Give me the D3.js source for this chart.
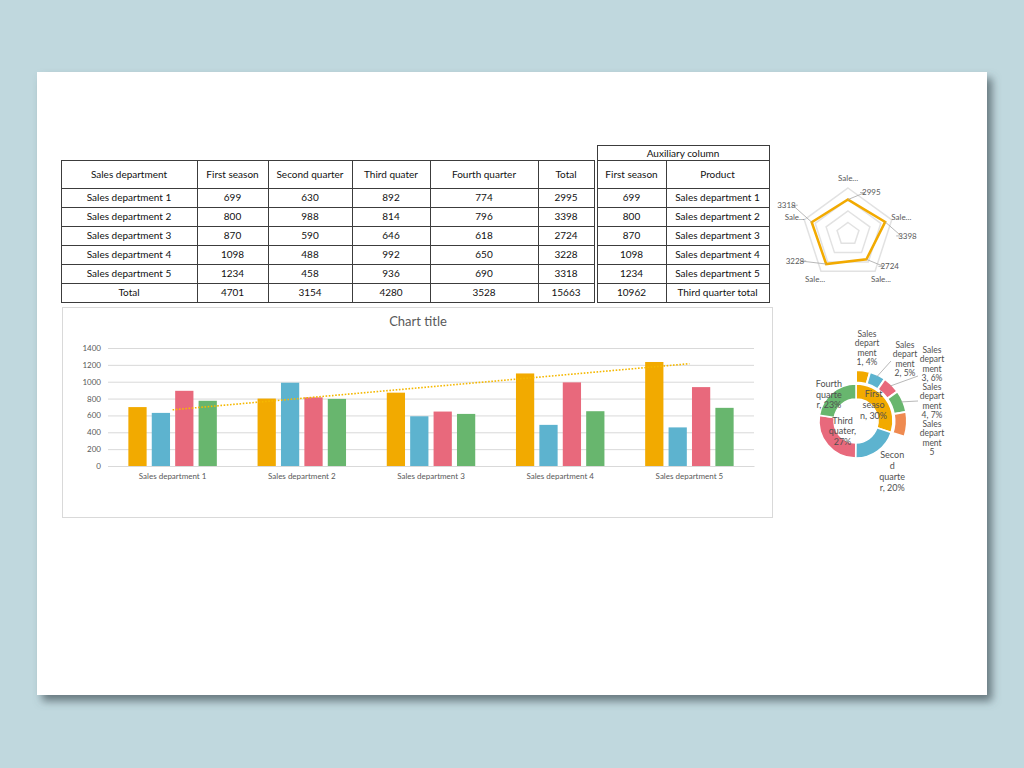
<!DOCTYPE html>
<html>
<head>
<meta charset="utf-8">
<script src="https://cdn.jsdelivr.net/npm/d3@7/dist/d3.min.js"></script>
<style>
  body { margin: 0; background: #c0d8de; }
  svg { display: block; font-family: Lato, "Open Sans", sans-serif; }
</style>
</head>
<body>
<div id="chart"></div>
<script>
// data
var departments = ["Sales department 1", "Sales department 2", "Sales department 3", "Sales department 4", "Sales department 5"];
var quarters = ["First season", "Second quarter", "Third quater", "Fourth quarter"];
var firstSeason = [699, 800, 870, 1098, 1234];
var secondQuarter = [630, 988, 590, 488, 458];
var thirdQuarter = [892, 814, 646, 992, 936];
var fourthQuarter = [774, 796, 618, 650, 690];
var auxTotal = 10962;
var auxTotalLabel = "Third quarter total";
var yTicks = [0, 200, 400, 600, 800, 1000, 1200, 1400];
var radarTicks = [1000, 2000, 3000, 4000];
var quarterLabelLines = [["First", "seaso", "n, 30%"], ["Secon", "d", "quarte", "r, 20%"], ["Third", "quater,", "27%"], ["Fourth", "quarte", "r, 23%"]];
var deptLabelLines = [["Sales", "depart", "ment", "1, 4%"], ["Sales", "depart", "ment", "2, 5%"], ["Sales", "depart", "ment", "3, 6%"], ["Sales", "depart", "ment", "4, 7%"], ["Sales", "depart", "ment", "5"]];

var series = [firstSeason, secondQuarter, thirdQuarter, fourthQuarter];
var colors = ["#f2aa00", "#5db3cf", "#e8697c", "#68b66e"];
var deptColors = ["#f2aa00", "#5db3cf", "#e8697c", "#68b66e", "#ef8a50"];
var txt = "#111", grey = "#595959", gridCol = "#d9d9d9";

var deptTotals = departments.map((d, i) => d3.sum(series, s => s[i]));
var quarterTotals = series.map(s => d3.sum(s));
var grandTotal = d3.sum(quarterTotals);

var svg = d3.select("#chart").append("svg")
    .attr("width", 1024)
    .attr("height", 768);

// page + shadow
var defs = svg.append("defs");
defs.append("filter").attr("id", "shadow")
    .attr("x", "-5%").attr("y", "-5%").attr("width", "115%").attr("height", "115%")
  .append("feDropShadow")
    .attr("dx", 5).attr("dy", 6).attr("stdDeviation", 4)
    .attr("flood-color", "#4a5a5e").attr("flood-opacity", 0.75);

svg.append("rect")
    .attr("x", 37).attr("y", 72).attr("width", 950).attr("height", 623)
    .attr("fill", "white")
    .attr("filter", "url(#shadow)");

// ---------- main table ----------
var mainCols = [61, 197, 268, 352, 430, 538, 594];
var tableTop = 160, headH = 28, rowH = 19;
var rowY = i => tableTop + headH + i * rowH;

var mainRows = departments.map((d, i) => [d].concat(series.map(s => s[i]), [deptTotals[i]]));
mainRows.push(["Total"].concat(quarterTotals, [grandTotal]));
var mainHeader = ["Sales department"].concat(quarters, ["Total"]);

function drawTable(g, cols, header, rows, topY) {
  var bottom = rowY(rows.length);
  var ys = [topY, topY + headH].concat(d3.range(1, rows.length + 1).map(rowY));
  g.selectAll("line.h").data(ys).enter().append("line")
      .attr("x1", cols[0]).attr("x2", cols[cols.length - 1])
      .attr("y1", d => d + 0.5).attr("y2", d => d + 0.5)
      .attr("stroke", "#3c3c3c").attr("stroke-width", 1);
  g.selectAll("line.v").data(cols).enter().append("line")
      .attr("x1", d => d + 0.5).attr("x2", d => d + 0.5)
      .attr("y1", topY).attr("y2", bottom + 1)
      .attr("stroke", "#3c3c3c").attr("stroke-width", 1);

  g.selectAll("text.head").data(header).enter().append("text")
      .attr("x", (d, i) => (cols[i] + cols[i + 1]) / 2)
      .attr("y", topY + headH / 2)
      .attr("dy", "0.35em")
      .attr("text-anchor", "middle")
      .attr("font-size", 10)
      .attr("fill", txt)
      .text(d => d);

  rows.forEach(function(r, ri) {
    g.selectAll(null).data(r).enter().append("text")
        .attr("x", (d, i) => (cols[i] + cols[i + 1]) / 2)
        .attr("y", rowY(ri) + rowH / 2)
        .attr("dy", "0.35em")
        .attr("text-anchor", "middle")
        .attr("font-size", 10)
        .attr("fill", txt)
        .text(d => d);
  });
}

drawTable(svg.append("g"), mainCols, mainHeader, mainRows, tableTop);

// ---------- auxiliary table ----------
var auxCols = [597, 666, 769];
var auxRows = departments.map((d, i) => [firstSeason[i], d]);
auxRows.push([auxTotal, auxTotalLabel]);
var aux = svg.append("g");
aux.append("line").attr("x1", auxCols[0]).attr("x2", auxCols[2])
    .attr("y1", 145.5).attr("y2", 145.5).attr("stroke", "#3c3c3c");
aux.selectAll("line.sv").data([auxCols[0], auxCols[2]]).enter().append("line")
    .attr("x1", d => d + 0.5).attr("x2", d => d + 0.5)
    .attr("y1", 145).attr("y2", tableTop).attr("stroke", "#3c3c3c");
aux.append("text")
    .attr("x", (auxCols[0] + auxCols[2]) / 2).attr("y", 153).attr("dy", "0.35em")
    .attr("text-anchor", "middle").attr("font-size", 10).attr("fill", txt)
    .text("Auxiliary column");
drawTable(aux, auxCols, ["First season", "Product"], auxRows, tableTop);

// ---------- radar ----------
var rc = [848, 234];
var rScale = d3.scaleLinear().domain([0, 4000]).range([0, 46]);
var angle = d3.scaleLinear().domain([0, departments.length]).range([0, 2 * Math.PI]);
var radar = svg.append("g").attr("transform", "translate(" + rc + ")");

var ringLine = d3.lineRadial().angle((d, i) => angle(i)).curve(d3.curveLinearClosed);
radar.selectAll("path.ring").data(radarTicks).enter().append("path")
    .attr("d", t => ringLine.radius(rScale(t))(departments))
    .attr("fill", "none").attr("stroke", "#e2e2e2").attr("stroke-width", 1.5);

radar.append("path")
    .datum(deptTotals)
    .attr("d", d3.lineRadial().angle((d, i) => angle(i)).radius(d => rScale(d)).curve(d3.curveLinearClosed))
    .attr("fill", "none").attr("stroke", "#f2aa00").attr("stroke-width", 2.5);

radar.selectAll("text.cat").data(departments).enter().append("text")
    .attr("x", (d, i) => d3.pointRadial(angle(i), 56)[0])
    .attr("y", (d, i) => d3.pointRadial(angle(i), 56)[1])
    .attr("dy", "0.35em")
    .attr("text-anchor", "middle")
    .attr("font-size", 8).attr("fill", grey)
    .text(d => d.slice(0, 4) + "...");

// value labels offset from their vertices
var radarLabelOff = [[19, -7], [18, 14], [19, 7], [-27, -3], [-21, -17]];
var radarLabels = radar.selectAll("g.val").data(deptTotals).enter().append("g");
radarLabels.append("polyline")
    .attr("points", function(d, i) {
      var p = d3.pointRadial(angle(i), rScale(d)), o = radarLabelOff[i];
      var side = o[0] > 0 ? -10 : 10;
      return [p, [p[0] + o[0] + side * 0.2, p[1] + o[1]], [p[0] + o[0] + side * 0.7, p[1] + o[1]]].join(" ");
    })
    .attr("fill", "none").attr("stroke", "#a6a6a6").attr("stroke-width", 0.8);
radarLabels.append("text")
    .attr("x", (d, i) => d3.pointRadial(angle(i), rScale(d))[0] + radarLabelOff[i][0] + (radarLabelOff[i][0] > 0 ? -5 : 5))
    .attr("y", (d, i) => d3.pointRadial(angle(i), rScale(d))[1] + radarLabelOff[i][1])
    .attr("dy", "0.35em")
    .attr("text-anchor", (d, i) => radarLabelOff[i][0] > 0 ? "start" : "end")
    .attr("font-size", 8).attr("fill", grey)
    .text(d => d);

// ---------- bar chart ----------
var box = svg.append("g");
box.append("rect")
    .attr("x", 62.5).attr("y", 307.5).attr("width", 710).attr("height", 210)
    .attr("fill", "white").attr("stroke", gridCol);
box.append("text")
    .attr("x", 418).attr("y", 326)
    .attr("text-anchor", "middle").attr("font-size", 13).attr("fill", grey)
    .text("Chart title");

var x0 = d3.scaleBand().domain(departments).range([108, 754]);
var x1 = d3.scaleBand().domain(quarters).range([0, x0.bandwidth()]).paddingInner(0.22).paddingOuter(0.87);
var y = d3.scaleLinear().domain([0, 1400]).range([466, 348]);

var yAxis = box.append("g").attr("transform", "translate(108,0)")
    .call(d3.axisLeft(y).tickValues(yTicks).tickFormat(d3.format("d")).tickSize(-646).tickPadding(7));
yAxis.select(".domain").remove();
yAxis.selectAll(".tick line").attr("stroke", gridCol);
yAxis.selectAll(".tick text").attr("fill", grey).attr("font-size", 8).attr("font-family", "Lato, sans-serif");

var xAxis = box.append("g").attr("transform", "translate(0,466)")
    .call(d3.axisBottom(x0).tickSize(0).tickPadding(7));
xAxis.select(".domain").attr("stroke", gridCol);
xAxis.selectAll(".tick text").attr("fill", grey).attr("font-size", 8).attr("font-family", "Lato, sans-serif");

var groups = box.selectAll("g.dept").data(departments).enter().append("g")
    .attr("transform", d => "translate(" + x0(d) + ",0)");
groups.selectAll("rect").data((d, i) => series.map((s, j) => ({ q: quarters[j], v: s[i], c: colors[j] })))
  .enter().append("rect")
    .attr("x", d => x1(d.q))
    .attr("width", x1.bandwidth())
    .attr("y", d => y(d.v))
    .attr("height", d => y(0) - y(d.v))
    .attr("fill", d => d.c);

// linear trend of first season
var xs = d3.range(1, firstSeason.length + 1);
var mx = d3.mean(xs), my = d3.mean(firstSeason);
var slope = d3.sum(xs, (v, i) => (v - mx) * (firstSeason[i] - my)) / d3.sum(xs, v => (v - mx) * (v - mx));
var trend = [xs[0], xs[xs.length - 1]].map(v => ({ d: departments[v - 1], v: my + slope * (v - mx) }));
box.append("path")
    .datum(trend)
    .attr("d", d3.line().x(d => x0(d.d) + x0.bandwidth() / 2).y(d => y(d.v)))
    .attr("stroke", "#f5b800").attr("stroke-width", 1.6)
    .attr("stroke-dasharray", "1.6,1.6").attr("fill", "none");

// ---------- double donut ----------
var dc = [856, 421];
var donut = svg.append("g").attr("transform", "translate(" + dc + ")");
var innerPie = d3.pie().sort(null).value(d => d);
var innerArc = d3.arc().innerRadius(22).outerRadius(37);
donut.selectAll("path.q").data(innerPie(quarterTotals)).enter().append("path")
    .attr("d", innerArc)
    .attr("fill", (d, i) => colors[i])
    .attr("stroke", "white").attr("stroke-width", 1.5);

var outerPie = d3.pie().sort(null).value(d => d)
    .endAngle(2 * Math.PI * d3.sum(firstSeason) / grandTotal);
var outerArc = d3.arc().innerRadius(38.5).outerRadius(51);
var outerArcs = outerPie(firstSeason);
donut.selectAll("path.d").data(outerArcs).enter().append("path")
    .attr("d", outerArc)
    .attr("fill", (d, i) => deptColors[i])
    .attr("stroke", "white").attr("stroke-width", 2);

function mid(a) { return (a.startAngle + a.endAngle) / 2; }

// quarter labels: [angle shift in degrees, radius]; dept labels: offset from centre
var quarterLabelPos = [[-7, 24], [0, 62], [3, 17], [-5, 38]];
var deptLabelOff = [[11, -73], [49, -62], [76, -57], [76, -20], [76, 17]];

// leader lines from the small outer slices to their labels
donut.selectAll("line.lead").data([1, 2, 3]).enter().append("line")
    .attr("x1", k => d3.pointRadial(mid(outerArcs[k]), 49)[0])
    .attr("y1", k => d3.pointRadial(mid(outerArcs[k]), 49)[1])
    .attr("x2", k => deptLabelOff[k][0] - 14)
    .attr("y2", k => deptLabelOff[k][1] + (k === 1 ? 2 : (k === 2 ? 12 : 0)))
    .attr("stroke", "#a6a6a6").attr("stroke-width", 0.8);

function multiLabel(g, lines, pts, size, lh) {
  var n = lines.length;
  var t = g.append("text")
      .attr("text-anchor", "middle")
      .attr("font-size", size).attr("fill", "#505050");
  t.selectAll("tspan").data(lines).enter().append("tspan")
      .attr("x", pts[0])
      .attr("y", (s, k) => pts[1] + (k - (n - 1) / 2) * lh)
      .attr("dy", "0.35em")
      .text(s => s);
}

var innerArcs = innerPie(quarterTotals);
donut.selectAll("g.ql").data(innerArcs).enter().append("g")
    .each(function(d, i) {
      var p = d3.pointRadial(mid(d) + quarterLabelPos[i][0] * Math.PI / 180, quarterLabelPos[i][1]);
      multiLabel(d3.select(this), quarterLabelLines[i], p, 9, 10.8);
    });
donut.selectAll("g.dl").data(outerArcs).enter().append("g")
    .each(function(d, i) {
      multiLabel(d3.select(this), deptLabelLines[i], deptLabelOff[i], 8.5, 9.4);
    });
</script>
</body>
</html>
